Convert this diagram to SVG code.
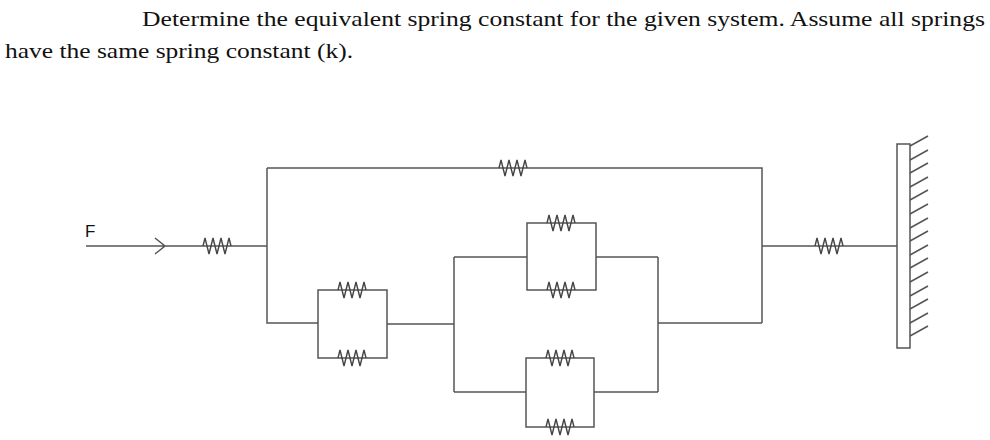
<svg xmlns="http://www.w3.org/2000/svg" xmlns:xlink="http://www.w3.org/1999/xlink" width="990" height="440" viewBox="0 0 990 440">
<style>
.w{fill:none;stroke:#555;stroke-width:1.5}
.s{fill:none;stroke:#444;stroke-width:1.4;stroke-linejoin:miter}
.t{font-family:"Liberation Serif",serif;font-size:22px;fill:#111}
</style>
<defs>
<path id="sp" class="s" d="M-14,0 l2,-8 l4,16 l4,-16 l4,16 l4,-16 l4,16 l4,-16 l2,8"/>
</defs>
<rect width="990" height="440" fill="#fff"/>
<text class="t" x="142" y="26" textLength="843" lengthAdjust="spacingAndGlyphs">Determine the equivalent spring constant for the given system. Assume all springs</text>
<text class="t" x="5" y="58" textLength="348" lengthAdjust="spacingAndGlyphs">have the same spring constant (k).</text>
<g id="connectors" class="w">
<path d="M86,246 H267 M155,238 L165,246 L155,254"/>
<path d="M267,168 H762 V323 M267,168 V323 H318"/>
<path d="M318,290 H387 V358 H318 Z M387,324 H454"/>
<path d="M454,257 V392 M454,257 H527 M454,392 H526"/>
<path d="M527,223 H596 V290 H527 Z M596,257 H658"/>
<path d="M526,358 H594 V427 H526 Z M594,392 H658"/>
<path d="M658,257 V392 M658,323 H762 M762,246 H897"/>
</g>
<g id="spring-input"><use href="#sp" x="217" y="246"/></g>
<g id="spring-top"><use href="#sp" x="513" y="168"/></g>
<g id="spring-left-a"><use href="#sp" x="352" y="290"/></g>
<g id="spring-left-b"><use href="#sp" x="352" y="358"/></g>
<g id="spring-ur-a"><use href="#sp" x="561" y="223"/></g>
<g id="spring-ur-b"><use href="#sp" x="561" y="290"/></g>
<g id="spring-lr-a"><use href="#sp" x="560" y="358"/></g>
<g id="spring-lr-b"><use href="#sp" x="560" y="427"/></g>
<g id="spring-output"><use href="#sp" x="829" y="246"/></g>
<g id="wall" class="w">
<rect x="897" y="144" width="13" height="204" fill="#fff"/>
<path d="M910,146 l18,-10 M910,160 l18,-10 M910,173 l18,-10 M910,187 l18,-10 M910,200 l18,-10 M910,214 l18,-10 M910,228 l18,-10 M910,241 l18,-10 M910,255 l18,-10 M910,268 l18,-10 M910,282 l18,-10 M910,296 l18,-10 M910,309 l18,-10 M910,323 l18,-10 M910,336 l18,-10"/>
</g>
<text x="85" y="237" font-family="Liberation Sans,sans-serif" font-size="17" fill="#111">F</text>
</svg>
